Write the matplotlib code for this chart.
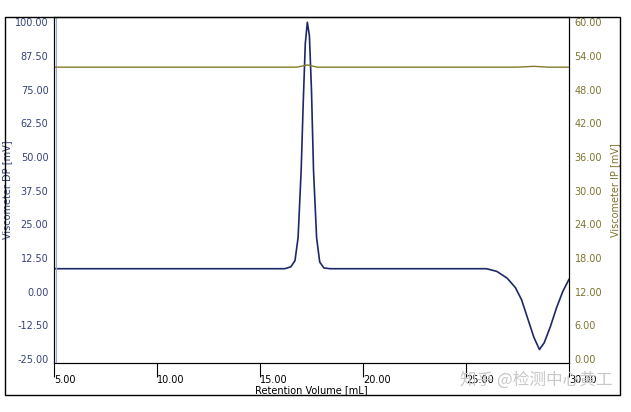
import matplotlib
matplotlib.use("Agg")
import matplotlib.pyplot as plt
from matplotlib.patches import Rectangle

plt.rcParams['font.family'] = ['DejaVu Sans', 'Noto Sans CJK SC']

# Viscometer DP trace
dp_x = [5.0, 16.2, 16.5, 16.7, 16.85, 17.0, 17.1, 17.2, 17.3, 17.4, 17.5, 17.6,
        17.75, 17.9, 18.1, 18.4, 26.0, 26.5, 27.0, 27.4, 27.7, 28.0, 28.3,
        28.57, 28.8, 29.1, 29.4, 29.7, 30.0]
dp_y = [8.5, 8.5, 9.2, 11.5, 20, 45, 70, 92, 100, 95, 75, 45,
        20, 11, 8.8, 8.5, 8.5, 7.5, 5.0, 1.5, -3, -10, -17,
        -21.5, -19, -13, -6, 0, 4.5]

# Viscometer IP trace (right axis)
ip_x = [5.0, 16.8, 17.3, 17.8, 27.5, 28.3, 29.0, 30.0]
ip_y = [52.0, 52.0, 52.4, 52.0, 52.0, 52.15, 52.0, 52.0]

x_ticks = [5, 10, 15, 20, 25, 30]
left_ticks = [-25, -12.5, 0, 12.5, 25, 37.5, 50, 62.5, 75, 87.5, 100]
right_ticks = [0, 6, 12, 18, 24, 30, 36, 42, 48, 54, 60]

blue = "#1c2868"
olive = "#857a2c"

fig = plt.figure(figsize=(6.31, 4.12), dpi=100)
ax = fig.add_axes([0.0856, 0.119, 0.816, 0.84])
ax.plot(dp_x, dp_y, color=blue, lw=1.2)
ax.axvline(5.1, color="#9aa8d0", lw=0.8)
ax.set_xlim(5, 30)
ax.set_ylim(-26.5, 102)
ax.set_yticks(left_ticks)
ax.set_yticklabels([f"{v:.2f}" for v in left_ticks], fontsize=7, color="#34427a")
ax.set_xticks(x_ticks)
ax.set_xticklabels([f"{v:.2f}" for v in x_ticks], fontsize=7, ha="left")
ax.tick_params(axis="y", length=0, pad=4)
ax.tick_params(axis="x", direction="out", length=10, pad=-1)
ax.set_ylabel("Viscometer DP [mV]", fontsize=7, color="#34427a", labelpad=2)
ax.set_xlabel("Retention Volume [mL]", fontsize=7, labelpad=0)

ax2 = ax.twinx()
ax2.plot(ip_x, ip_y, color=olive, lw=1.0)
ax2.set_ylim((-26.5 + 25) * 0.48, (102 + 25) * 0.48)
ax2.set_yticks(right_ticks)
ax2.set_yticklabels([f"{v:.2f}" for v in right_ticks], fontsize=7, color="#7d7430")
ax2.tick_params(axis="y", length=0, pad=4)
ax2.set_ylabel("Viscometer IP [mV]", fontsize=7, color="#7d7430", labelpad=6)

fig.patches.append(Rectangle((0.008, 0.041), 0.975, 0.917, transform=fig.transFigure,
                             fill=False, edgecolor="black", lw=1.0))
fig.text(0.97, 0.065, "知乎 @检测中心黄工", fontsize=12, color="#c8c8c8", ha="right",
         family=['Noto Sans CJK SC', 'DejaVu Sans'])

fig.savefig("out.png", dpi=100)
